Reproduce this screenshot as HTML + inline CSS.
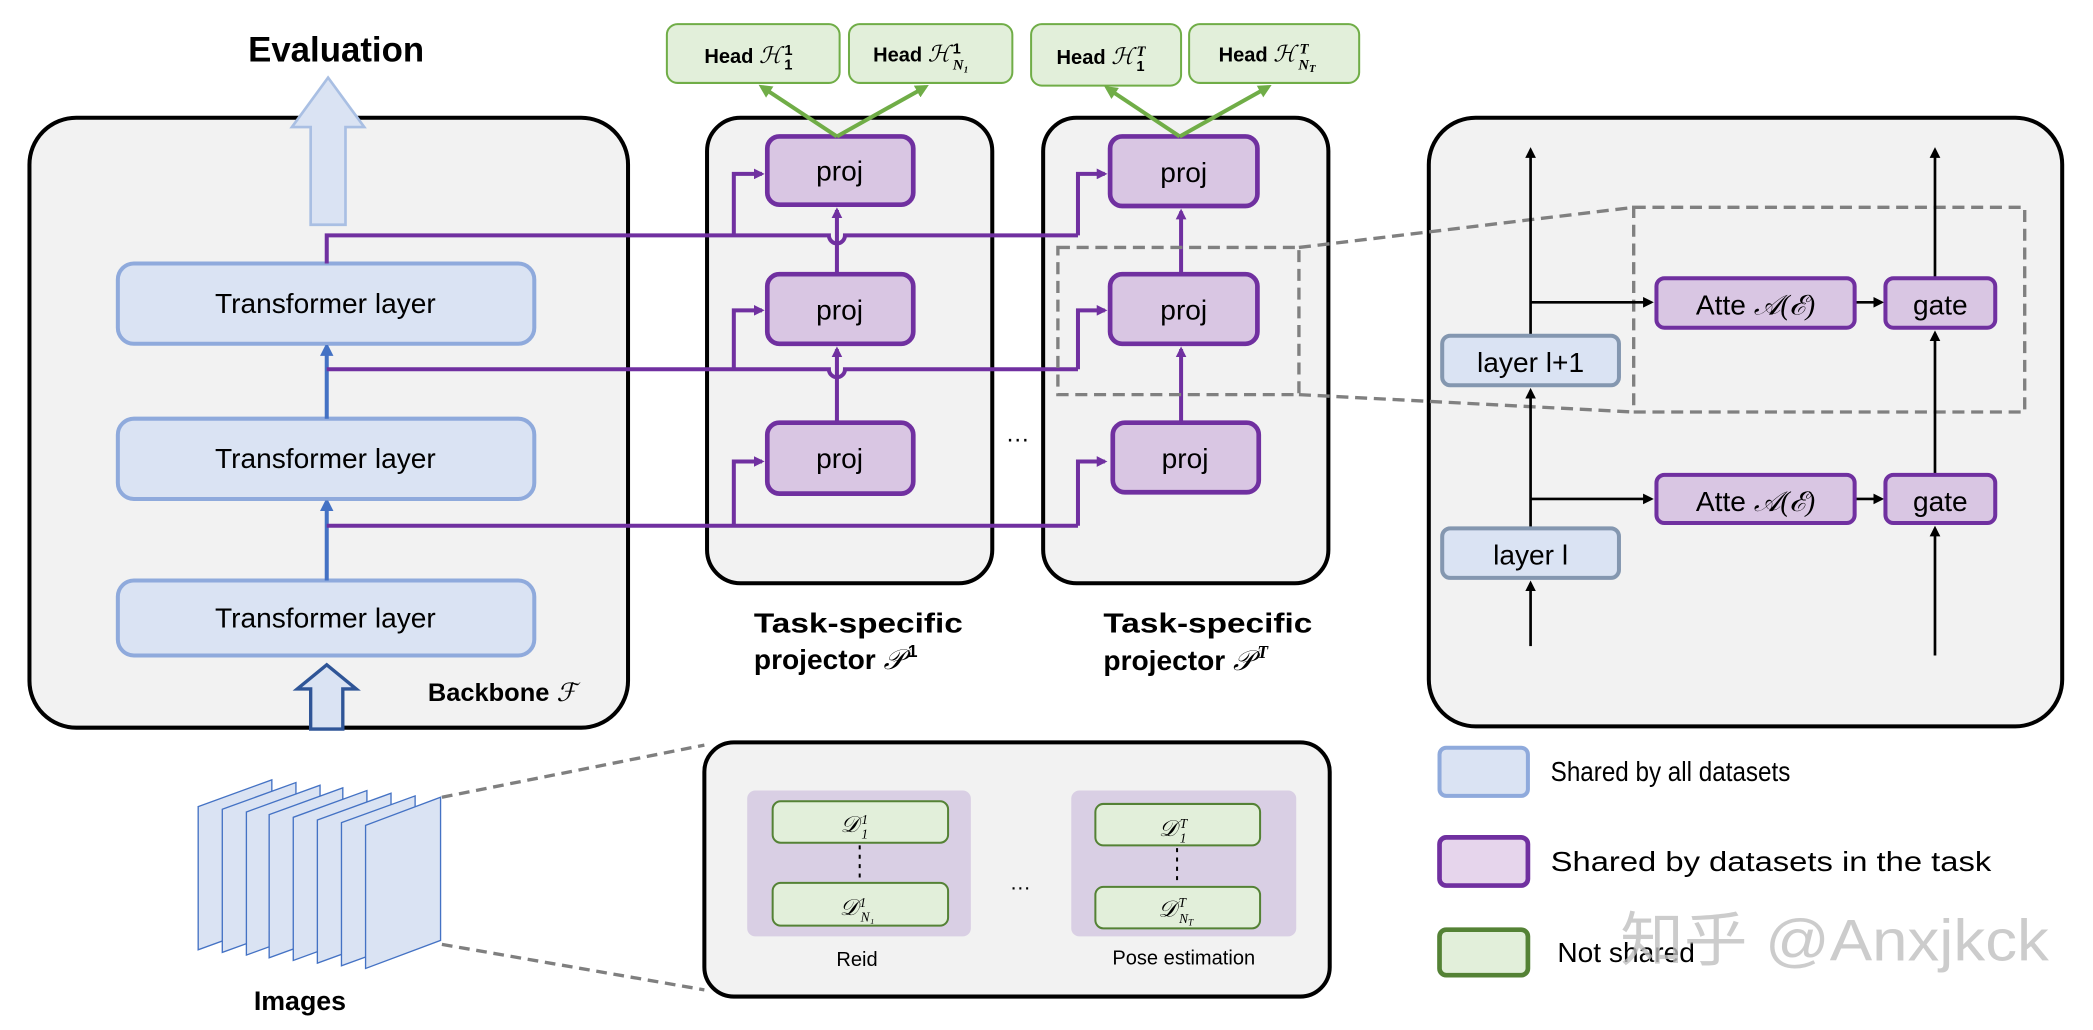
<!DOCTYPE html>
<html><head><meta charset="utf-8"><style>
html,body{margin:0;padding:0;background:#fff;}
svg{display:block;}
text{font-family:"Liberation Sans","Noto Sans CJK SC",sans-serif;}
.it{font-family:"Liberation Serif",serif;font-style:italic;}
</style></head><body>
<svg width="2093" height="1030" viewBox="0 0 1563 770" preserveAspectRatio="none" xmlns="http://www.w3.org/2000/svg">
<defs>
<marker id="ap" markerWidth="8" markerHeight="8" refX="6" refY="4" orient="auto" markerUnits="userSpaceOnUse"><path d="M0,0 L8,4 L0,8z" fill="#7030a0"/></marker>
<marker id="ab" markerWidth="8" markerHeight="10" refX="6" refY="5" orient="auto" markerUnits="userSpaceOnUse"><path d="M0,0 L10,5 L0,10z" fill="#4472c4"/></marker>
<marker id="ak" markerWidth="8" markerHeight="8" refX="6" refY="4" orient="auto" markerUnits="userSpaceOnUse"><path d="M0,0 L8,4 L0,8z" fill="#000"/></marker>
<marker id="ag" markerWidth="10" markerHeight="10" refX="7" refY="5" orient="auto" markerUnits="userSpaceOnUse"><path d="M0,0 L10,5 L0,10z" fill="#70ad47"/></marker>
</defs>

<text x="251" y="46" font-size="26" font-weight="bold" text-anchor="middle">Evaluation</text>

<!-- Backbone -->
<rect x="22" y="88" width="447" height="456" rx="35" fill="#f2f2f2" stroke="#000" stroke-width="3"/>
<path d="M232,168 L232,95 L218,95 L245,58 L272,95 L258,95 L258,168Z" fill="#dae3f3" stroke="#a9bfe3" stroke-width="2"/>
<g fill="#dae3f3" stroke="#8faadc" stroke-width="3">
<rect x="88" y="197" width="311" height="60" rx="12"/>
<rect x="88" y="313" width="311" height="60" rx="12"/>
<rect x="88" y="434" width="311" height="56" rx="12"/>
</g>
<g font-size="21" text-anchor="middle">
<text x="243" y="234">Transformer layer</text>
<text x="243" y="350">Transformer layer</text>
<text x="243" y="469">Transformer layer</text>
</g>
<line x1="244" y1="313" x2="244" y2="260" stroke="#4472c4" stroke-width="3" marker-end="url(#ab)"/>
<line x1="244" y1="434" x2="244" y2="376" stroke="#4472c4" stroke-width="3" marker-end="url(#ab)"/>
<text x="375" y="524" font-size="19" font-weight="bold" text-anchor="middle">Backbone <tspan class="it" font-weight="normal">ℱ</tspan></text>
<path d="M232,545 L232,515 L222,515 L244,497 L266,515 L256,515 L256,545Z" fill="#dae3f3" stroke="#2f5597" stroke-width="2.5"/>

<!-- projector boxes -->
<rect x="528" y="88" width="213" height="348" rx="25" fill="#f2f2f2" stroke="#000" stroke-width="3"/>
<rect x="779" y="88" width="213" height="348" rx="25" fill="#f2f2f2" stroke="#000" stroke-width="3"/>

<!-- purple lines -->
<g fill="none" stroke="#7030a0" stroke-width="3">
<path d="M244,197 L244,176 L619,176 A6,6 0 0 0 631,176 L790,176 L805,176"/>
<path d="M244,276 L619,276 A6,6 0 0 0 631,276 L805,276"/>
<path d="M244,393 L805,393"/>
<path d="M548,176 L548,130 L569,130" marker-end="url(#ap)"/>
<path d="M548,276 L548,232 L569,232" marker-end="url(#ap)"/>
<path d="M548,393 L548,345 L569,345" marker-end="url(#ap)"/>
<path d="M805,176 L805,130 L825,130" marker-end="url(#ap)"/>
<path d="M805,276 L805,232 L825,232" marker-end="url(#ap)"/>
<path d="M805,393 L805,345 L825,345" marker-end="url(#ap)"/>
<path d="M625,205 L625,157" marker-end="url(#ap)"/>
<path d="M625,316 L625,261" marker-end="url(#ap)"/>
<path d="M882,205 L882,158" marker-end="url(#ap)"/>
<path d="M882,316 L882,261" marker-end="url(#ap)"/>
</g>
<g fill="#d9c6e3" stroke="#7030a0" stroke-width="3.5">
<rect x="573" y="102" width="109" height="51" rx="9"/>
<rect x="573" y="205" width="109" height="52" rx="9"/>
<rect x="573" y="316" width="109" height="53" rx="9"/>
<rect x="829" y="102" width="110" height="52" rx="9"/>
<rect x="829" y="205" width="110" height="52" rx="9"/>
<rect x="831" y="316" width="109" height="52" rx="9"/>
</g>
<g font-size="21" text-anchor="middle">
<text x="627" y="135">proj</text><text x="627" y="239">proj</text><text x="627" y="350">proj</text>
<text x="884" y="136">proj</text><text x="884" y="239">proj</text><text x="885" y="350">proj</text>
</g>
<text x="760" y="330" font-size="18" text-anchor="middle">…</text>

<!-- heads -->
<g fill="#e2efda" stroke="#70ad47" stroke-width="1.5">
<rect x="498" y="18" width="129" height="44" rx="8"/>
<rect x="634" y="18" width="122" height="44" rx="8"/>
<rect x="770" y="18" width="112" height="46" rx="8"/>
<rect x="888" y="18" width="127" height="44" rx="8"/>
</g>
<g font-size="15" font-weight="bold">
<text x="526" y="47">Head <tspan class="it" font-weight="normal" font-size="17">ℋ</tspan><tspan font-size="11" dx="2" dy="5">1</tspan><tspan font-size="11" dx="-6" dy="-11">1</tspan></text>
<text x="652" y="46">Head <tspan class="it" font-weight="normal" font-size="17">ℋ</tspan><tspan class="it" font-size="11" dx="2" dy="6">N₁</tspan><tspan font-size="11" dx="-12" dy="-12">1</tspan></text>
<text x="789" y="48">Head <tspan class="it" font-weight="normal" font-size="17">ℋ</tspan><tspan font-size="11" dx="2" dy="5">1</tspan><tspan class="it" font-size="11" dx="-6" dy="-11">T</tspan></text>
<text x="910" y="46">Head <tspan class="it" font-weight="normal" font-size="17">ℋ</tspan><tspan class="it" font-size="11" dx="2" dy="6">N</tspan><tspan class="it" font-size="8" dy="2">T</tspan><tspan class="it" font-size="11" dx="-12" dy="-14">T</tspan></text>
</g>
<g stroke="#70ad47" stroke-width="3" fill="none">
<line x1="625" y1="102" x2="569" y2="65" marker-end="url(#ag)"/>
<line x1="625" y1="102" x2="691" y2="65" marker-end="url(#ag)"/>
<line x1="881" y1="102" x2="827" y2="66" marker-end="url(#ag)"/>
<line x1="881" y1="102" x2="947" y2="65" marker-end="url(#ag)"/>
</g>

<g font-size="21" font-weight="bold">
<text x="563" y="473" textLength="156" lengthAdjust="spacingAndGlyphs">Task-specific</text>
<text x="563" y="500">projector <tspan class="it" font-weight="normal">𝒫</tspan><tspan font-size="13" dx="3" dy="-9">1</tspan></text>
<text x="824" y="473" textLength="156" lengthAdjust="spacingAndGlyphs">Task-specific</text>
<text x="824" y="501">projector <tspan class="it" font-weight="normal">𝒫</tspan><tspan class="it" font-size="13" dx="3" dy="-9">T</tspan></text>
</g>

<!-- right detail box -->
<rect x="1067" y="88" width="473" height="455" rx="35" fill="#f2f2f2" stroke="#000" stroke-width="3"/>
<g stroke="#808080" stroke-width="2.5" stroke-dasharray="9,5" fill="none">
<rect x="790" y="185" width="180" height="110"/>
<line x1="970" y1="185" x2="1220" y2="155"/>
<line x1="970" y1="295" x2="1220" y2="308"/>
<rect x="1220" y="155" width="292" height="153"/>
</g>
<g stroke="#000" stroke-width="2" fill="none">
<line x1="1143" y1="483" x2="1143" y2="436" marker-end="url(#ak)"/>
<line x1="1143" y1="395" x2="1143" y2="292" marker-end="url(#ak)"/>
<line x1="1143" y1="251" x2="1143" y2="112" marker-end="url(#ak)"/>
<line x1="1143" y1="226" x2="1233" y2="226" marker-end="url(#ak)"/>
<line x1="1143" y1="373" x2="1233" y2="373" marker-end="url(#ak)"/>
<line x1="1385" y1="226" x2="1405" y2="226" marker-end="url(#ak)"/>
<line x1="1385" y1="373" x2="1405" y2="373" marker-end="url(#ak)"/>
<line x1="1445" y1="490" x2="1445" y2="395" marker-end="url(#ak)"/>
<line x1="1445" y1="355" x2="1445" y2="249" marker-end="url(#ak)"/>
<line x1="1445" y1="208" x2="1445" y2="112" marker-end="url(#ak)"/>
</g>
<g fill="#dae3f3" stroke="#8497b0" stroke-width="3">
<rect x="1077" y="251" width="132" height="37" rx="6"/>
<rect x="1077" y="395" width="132" height="37" rx="6"/>
</g>
<g fill="#d9c6e3" stroke="#7030a0" stroke-width="3">
<rect x="1237" y="208" width="148" height="37" rx="6"/>
<rect x="1237" y="355" width="148" height="36" rx="6"/>
<rect x="1408" y="208" width="82" height="37" rx="6"/>
<rect x="1408" y="355" width="82" height="36" rx="6"/>
</g>
<g font-size="21" text-anchor="middle">
<text x="1143" y="278">layer l+1</text>
<text x="1143" y="422">layer l</text>
<text x="1311" y="235">Atte <tspan class="it">𝒜(ℰ)</tspan></text>
<text x="1311" y="382">Atte <tspan class="it">𝒜(ℰ)</tspan></text>
<text x="1449" y="235">gate</text>
<text x="1449" y="382">gate</text>
</g>

<!-- images -->
<g fill="#dae3f3" stroke="#4472c4" stroke-width="1">
<polygon points="148,603 203,583 203,690 148,710"/>
<polygon points="166,605 221,585 221,692 166,712"/>
<polygon points="184,607 239,587 239,694 184,714"/>
<polygon points="201,609 256,589 256,696 201,716"/>
<polygon points="219,611 274,591 274,698 219,718"/>
<polygon points="237,613 292,593 292,700 237,720"/>
<polygon points="255,615 310,595 310,702 255,722"/>
<polygon points="273,617 329,596 329,703 273,724"/>
</g>
<text x="224" y="755" font-size="20" font-weight="bold" text-anchor="middle">Images</text>
<g stroke="#7f7f7f" stroke-width="2.5" stroke-dasharray="8,5">
<line x1="330" y1="596" x2="526" y2="557"/>
<line x1="330" y1="706" x2="526" y2="740"/>
</g>

<!-- bottom dataset box -->
<rect x="526" y="555" width="467" height="190" rx="22" fill="#f2f2f2" stroke="#000" stroke-width="3"/>
<rect x="558" y="591" width="167" height="109" rx="6" fill="#d9cfe4"/>
<rect x="800" y="591" width="168" height="109" rx="6" fill="#d9cfe4"/>
<g fill="#e2efda" stroke="#548235" stroke-width="1.5">
<rect x="577" y="599" width="131" height="31" rx="6"/>
<rect x="577" y="660" width="131" height="32" rx="6"/>
<rect x="818" y="601" width="123" height="31" rx="6"/>
<rect x="818" y="663" width="123" height="31" rx="6"/>
</g>
<g stroke="#000" stroke-width="1.5" stroke-dasharray="3,4">
<line x1="642" y1="632" x2="642" y2="659"/>
<line x1="879" y1="634" x2="879" y2="662"/>
</g>
<g font-size="17" text-anchor="middle" class="it">
<text x="638" y="622" class="it">𝒟<tspan font-size="10" dx="2" dy="5">1</tspan><tspan font-size="10" dx="-5" dy="-11">1</tspan></text>
<text x="640" y="684" class="it">𝒟<tspan font-size="10" dx="2" dy="5">N₁</tspan><tspan font-size="10" dx="-11" dy="-11">1</tspan></text>
<text x="876" y="625" class="it">𝒟<tspan font-size="10" dx="2" dy="5">1</tspan><tspan font-size="10" dx="-5" dy="-11">T</tspan></text>
<text x="878" y="685" class="it">𝒟<tspan font-size="10" dx="2" dy="5">N</tspan><tspan font-size="7" dy="2">T</tspan><tspan font-size="10" dx="-11" dy="-14">T</tspan></text>
</g>
<text x="762" y="665" font-size="16" text-anchor="middle">…</text>
<text x="640" y="722" font-size="15" text-anchor="middle">Reid</text>
<text x="884" y="721" font-size="15" text-anchor="middle">Pose estimation</text>

<!-- legend -->
<rect x="1075" y="559" width="66" height="36" rx="5" fill="#dae3f3" stroke="#8faadc" stroke-width="3"/>
<rect x="1075" y="626" width="66" height="36" rx="5" fill="#e6d5ec" stroke="#7030a0" stroke-width="3.5"/>
<rect x="1075" y="695" width="66" height="34" rx="5" fill="#e2efda" stroke="#548235" stroke-width="3.5"/>
<g font-size="21">
<text x="1158" y="584" textLength="179" lengthAdjust="spacingAndGlyphs">Shared by all datasets</text>
<text x="1158" y="651" textLength="329" lengthAdjust="spacingAndGlyphs">Shared by datasets  in the task</text>
<text x="1163" y="719">Not shared</text>
</g>
<text x="1210" y="718" font-size="44" fill="#bfbfbf" fill-opacity="0.8" textLength="320" lengthAdjust="spacingAndGlyphs">知乎 @Anxjkck</text>
</svg>
</body></html>
